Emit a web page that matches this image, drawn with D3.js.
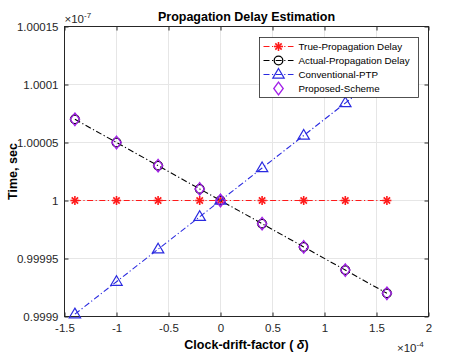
<!DOCTYPE html>
<html><head><meta charset="utf-8">
<script src="https://cdn.jsdelivr.net/npm/d3@7"></script>
<style>body{margin:0;background:#fff;font-family:"Liberation Sans",Arial,sans-serif}</style>
</head><body><svg id="c" width="474" height="355"></svg>
<script>
const delta = [-1.4, -1.0, -0.6, -0.2, 0, 0.4, 0.8, 1.2, 1.6]; // x 1e-4
const trueDelay = [1, 1, 1, 1, 1, 1, 1, 1, 1]; // x 1e-7
const actualDelay = [1.00007, 1.00005, 1.00003, 1.00001, 1, 0.99998, 0.99996, 0.99994, 0.99992];
const conventional = [0.999902, 0.99993, 0.999958, 0.999986, 1, 1.000028, 1.000056, 1.000084, 1.000112];
const proposed = [1.00007, 1.00005, 1.00003, 1.00001, 1, 0.99998, 0.99996, 0.99994, 0.99992];
const xTicks = [-1.5, -1, -0.5, 0, 0.5, 1, 1.5, 2];
const xTickLabels = ["-1.5", "-1", "-0.5", "0", "0.5", "1", "1.5", "2"];
const yTicks = [0.9999, 0.99995, 1, 1.00005, 1.0001, 1.00015];
const yTickLabels = ["0.9999", "0.99995", "1", "1.00005", "1.0001", "1.00015"];
const seriesNames = ["True-Propagation Delay", "Actual-Propagation Delay", "Conventional-PTP", "Proposed-Scheme"];

const svg = d3.select("#c");
const L = 64.5, R = 428.5, T = 26.5, B = 316.5;
const x = d3.scaleLinear().domain([-1.5, 2]).range([L, R]);
const y = d3.scaleLinear().domain([0.9999, 1.00015]).range([B, T]);
const axisCol = "#262626";
const font = "'Liberation Sans', Arial, sans-serif";

// grid
const g = svg.append("g");
g.selectAll(".gx").data(xTicks.slice(1, -1)).join("line")
  .attr("x1", d => x(d)).attr("x2", d => x(d)).attr("y1", T).attr("y2", B)
  .attr("stroke", "#e6e6e6").attr("stroke-width", 1);
g.selectAll(".gy").data(yTicks.slice(1, -1)).join("line")
  .attr("y1", d => y(d)).attr("y2", d => y(d)).attr("x1", L).attr("x2", R)
  .attr("stroke", "#e6e6e6").attr("stroke-width", 1);

// axes
const xAxis = d3.axisBottom(x).tickValues(xTicks).tickSize(-4).tickPadding(7).tickFormat((d, i) => xTickLabels[i]);
const xAxisTop = d3.axisTop(x).tickValues(xTicks).tickSize(-4).tickFormat("");
const yAxis = d3.axisLeft(y).tickValues(yTicks).tickSize(-4).tickPadding(6).tickFormat((d, i) => yTickLabels[i]);
const yAxisR = d3.axisRight(y).tickValues(yTicks).tickSize(-4).tickFormat("");
function styleAx(sel) {
  sel.select(".domain").remove();
  sel.selectAll("line").attr("stroke", axisCol);
  sel.selectAll("text").attr("fill", axisCol).style("font-family", font).style("font-size", "11.5px");
}
svg.append("g").attr("transform", `translate(0,${B})`).call(xAxis).call(styleAx);
svg.append("g").attr("transform", `translate(0,${T})`).call(xAxisTop).call(styleAx);
svg.append("g").attr("transform", `translate(${L},0)`).call(yAxis).call(styleAx);
svg.append("g").attr("transform", `translate(${R},0)`).call(yAxisR).call(styleAx);
svg.append("rect").attr("x", L).attr("y", T).attr("width", R - L).attr("height", B - T)
  .attr("fill", "none").attr("stroke", axisCol).attr("stroke-width", 1);

// series
const plot = svg.append("g");
const dash = "6,2.5,1.2,2.5";
function lineOf(vals, col) {
  const ln = d3.line().x((d, i) => x(delta[i])).y(d => y(d));
  plot.append("path").datum(vals).attr("d", ln).attr("fill", "none")
    .attr("stroke", col).attr("stroke-width", 1.1).attr("stroke-dasharray", dash);
}
function star(sel, cx, cy, r, col) {
  const s = sel.append("g").attr("transform", `translate(${cx},${cy})`);
  for (let k = 0; k < 4; k++) {
    const a = k * Math.PI / 4;
    s.append("line").attr("x1", -r * Math.cos(a)).attr("y1", -r * Math.sin(a))
      .attr("x2", r * Math.cos(a)).attr("y2", r * Math.sin(a))
      .attr("stroke", col).attr("stroke-width", 1.6);
  }
}
function tri(sel, cx, cy, r, col) {
  const p = [[0, -r], [r * 0.95, r * 0.6], [-r * 0.95, r * 0.6]];
  sel.append("path").attr("d", "M" + p.map(q => [cx + q[0], cy + q[1]].join(",")).join("L") + "Z")
    .attr("fill", "none").attr("stroke", col).attr("stroke-width", 1.2);
}
function circ(sel, cx, cy, r, col) {
  sel.append("circle").attr("cx", cx).attr("cy", cy).attr("r", r)
    .attr("fill", "none").attr("stroke", col).attr("stroke-width", 1.3);
}
function diam(sel, cx, cy, r, col) {
  sel.append("path").attr("d", `M${cx},${cy - r}L${cx + r * 0.75},${cy}L${cx},${cy + r}L${cx - r * 0.75},${cy}Z`)
    .attr("fill", "none").attr("stroke", col).attr("stroke-width", 1.3);
}
const red = "#ff1a1a", black = "#000000", blue = "#2a2ae0", purple = "#a21fe8";
lineOf(trueDelay, red);
trueDelay.forEach((v, i) => star(plot, x(delta[i]), y(v), 4.5, red));
lineOf(actualDelay, black);
actualDelay.forEach((v, i) => circ(plot, x(delta[i]), y(v), 4.3, black));
lineOf(conventional, blue);
conventional.forEach((v, i) => tri(plot, x(delta[i]), y(v), 6, blue));
proposed.forEach((v, i) => diam(plot, x(delta[i]), y(v), 6.3, purple));

// legend
const lg = svg.append("g");
const lx = 259.5, ly = 37.5, lw = 159, lh = 60;
lg.append("rect").attr("x", lx).attr("y", ly).attr("width", lw).attr("height", lh)
  .attr("fill", "#fff").attr("stroke", axisCol).attr("stroke-width", 0.8);
const cols = [red, black, blue, purple];
seriesNames.forEach((n, i) => {
  const yy = ly + 9 + i * 14;
  const x0 = lx + 4, x1 = lx + 34, xm = (x0 + x1) / 2;
  if (i < 3) lg.append("line").attr("x1", x0).attr("x2", x1).attr("y1", yy).attr("y2", yy)
    .attr("stroke", cols[i]).attr("stroke-width", 1.1).attr("stroke-dasharray", dash);
  if (i === 0) star(lg, xm, yy, 4.5, red);
  if (i === 1) circ(lg, xm, yy, 4.3, black);
  if (i === 2) tri(lg, xm, yy, 6, blue);
  if (i === 3) diam(lg, xm, yy, 6.3, purple);
  lg.append("text").attr("x", lx + 39).attr("y", yy + 3.5).text(n)
    .style("font-family", font).style("font-size", "9.8px").attr("fill", "#000")
    .attr("textLength", null);
});

// titles
svg.append("text").attr("x", (L + R) / 2 + 0).attr("y", 21).attr("text-anchor", "middle")
  .style("font-family", font).style("font-size", "12.5px").style("font-weight", "bold").text("Propagation Delay Estimation");
svg.append("text").attr("transform", `translate(17,${(T + B) / 2}) rotate(-90)`).attr("text-anchor", "middle")
  .style("font-family", font).style("font-size", "12.5px").style("font-weight", "bold").text("Time, sec");
const xl = svg.append("text").attr("x", (L + R) / 2).attr("y", 349).attr("text-anchor", "middle")
  .style("font-family", font).style("font-size", "12.5px").style("font-weight", "bold");
xl.append("tspan").text("Clock-drift-factor ( ");
xl.append("tspan").style("font-style", "italic").text("δ");
xl.append("tspan").text(")");

function expo(px, py, e) {
  const t = svg.append("text").attr("x", px).attr("y", py).style("font-family", font)
    .style("font-size", "11.5px").attr("fill", axisCol);
  t.append("tspan").text("×10");
  t.append("tspan").attr("dy", -5).style("font-size", "8px").text(e);
}
expo(L, 23, "-7");
expo(397, 352, "-4");
</script></body></html>
